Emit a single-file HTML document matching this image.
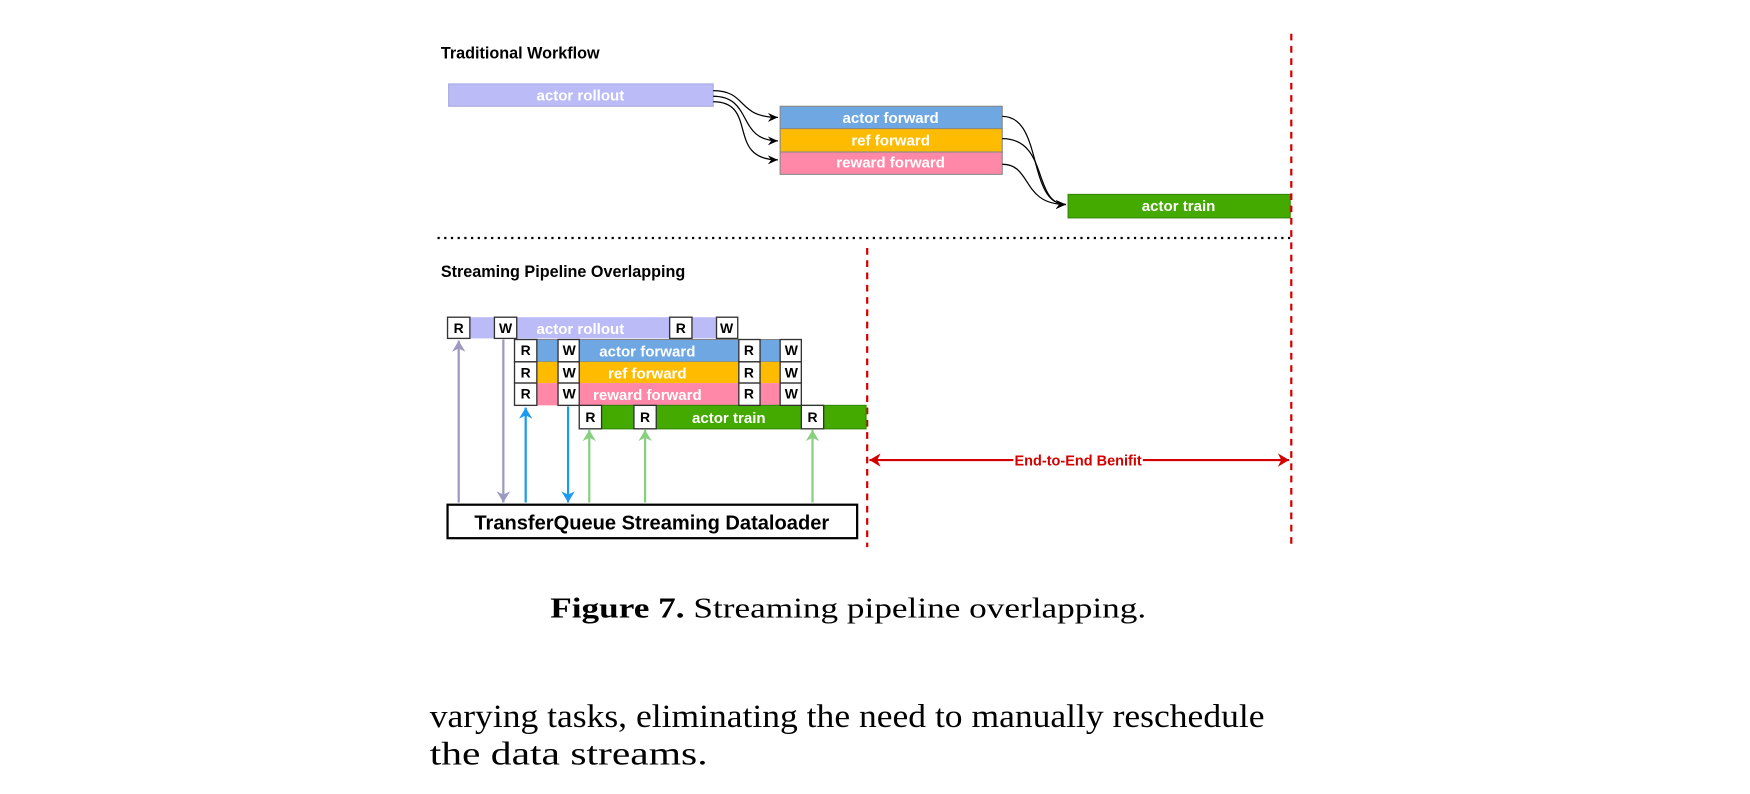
<!DOCTYPE html>
<html><head><meta charset="utf-8"><style>
html,body{margin:0;padding:0;background:#fff;}
svg{display:block;}
.t{font-family:"Liberation Sans",sans-serif;font-weight:bold;}
.w{fill:#fff;font-family:"Liberation Sans",sans-serif;font-weight:bold;font-size:13.5px;text-anchor:middle;}
.b{font-family:"Liberation Sans",sans-serif;font-weight:bold;font-size:12.5px;text-anchor:middle;fill:#000;}
.s{font-family:"Liberation Serif",serif;}
</style></head><body>
<svg width="1750" height="794" viewBox="0 0 1568 711" xmlns="http://www.w3.org/2000/svg">
<defs>
<marker id="ak" markerWidth="10" markerHeight="10" refX="9" refY="5" orient="auto" markerUnits="userSpaceOnUse"><path d="M0,1 L9,5 L0,9 L3,5z" fill="#000"/></marker>
<marker id="ap" markerWidth="12" markerHeight="12" refX="10" refY="6" orient="auto" markerUnits="userSpaceOnUse"><path d="M0,0 L10,6 L0,12 L3,6z" fill="#9c99c0"/></marker>
<marker id="ab" markerWidth="12" markerHeight="12" refX="10" refY="6" orient="auto" markerUnits="userSpaceOnUse"><path d="M0,0 L10,6 L0,12 L3,6z" fill="#1a9af0"/></marker>
<marker id="ag" markerWidth="12" markerHeight="12" refX="10" refY="6" orient="auto" markerUnits="userSpaceOnUse"><path d="M0,0 L10,6 L0,12 L3,6z" fill="#88d080"/></marker>
<marker id="ar" markerWidth="12" markerHeight="12" refX="10" refY="6" orient="auto-start-reverse" markerUnits="userSpaceOnUse"><path d="M0,0 L10,6 L0,12 L3,6z" fill="#d40000"/></marker>
</defs>
<rect width="1568" height="711" fill="#fff"/>
<text x="395" y="52" class="t" font-size="14.5">Traditional Workflow</text>
<rect x="402" y="75" width="237" height="20" fill="#bbbbf8" stroke="#a8a8e0"/>
<text x="520" y="90" class="w">actor rollout</text>
<rect x="699" y="95" width="199" height="20" fill="#6fa7e3" stroke="#888"/>
<text x="798" y="110" class="w">actor forward</text>
<rect x="699" y="115" width="199" height="21" fill="#ffbb00" stroke="#888"/>
<text x="798" y="130" class="w">ref forward</text>
<rect x="699" y="136" width="199" height="20" fill="#ff88a8" stroke="#888"/>
<text x="798" y="150" class="w">reward forward</text>
<rect x="957" y="174" width="199" height="21" fill="#44aa00" stroke="#2f8a00"/>
<text x="1056" y="189" class="w">actor train</text>
<g fill="none" stroke="#000" stroke-width="1.1">
<path d="M639,81 C670,81 660,105 697,105" marker-end="url(#ak)"/>
<path d="M639,86 C675,86 660,126 697,126" marker-end="url(#ak)"/>
<path d="M639,91 C680,91 650,143 697,143" marker-end="url(#ak)"/>
<path d="M898,104 C935,104 920,183 955,183" marker-end="url(#ak)"/>
<path d="M898,124 C940,124 925,183 955,183" marker-end="url(#ak)"/>
<path d="M898,147 C925,147 915,183 955,183" marker-end="url(#ak)"/>
</g>
<line x1="392" y1="213" x2="1157" y2="213" stroke="#000" stroke-width="2" stroke-dasharray="2,4"/>
<line x1="1157" y1="30" x2="1157" y2="490" stroke="#d40000" stroke-width="2" stroke-dasharray="6,5"/>
<line x1="777" y1="222" x2="777" y2="490" stroke="#d40000" stroke-width="2" stroke-dasharray="6,5"/>
<text x="395" y="248" class="t" font-size="14.5">Streaming Pipeline Overlapping</text>
<rect x="421" y="284" width="221" height="19" fill="#bbbbf8"/>
<text x="520" y="299" class="w">actor rollout</text>
<rect x="481" y="304" width="236" height="20" fill="#6fa7e3" stroke="#777" stroke-width="0.8"/>
<text x="580" y="319" class="w">actor forward</text>
<rect x="481" y="324" width="181" height="19" fill="#ffbb00"/>
<rect x="681" y="324" width="18" height="19" fill="#ffbb00"/>
<text x="580" y="339" class="w">ref forward</text>
<rect x="481" y="343" width="181" height="20" fill="#ff88a8"/>
<rect x="681" y="343" width="18" height="20" fill="#ff88a8"/>
<text x="580" y="358" class="w">reward forward</text>
<rect x="539" y="363" width="237" height="21" fill="#44aa00" stroke="#2f8a00"/>
<text x="653" y="379" class="w">actor train</text>
<g fill="#fff" stroke="#333" stroke-width="1.2">
<rect x="401" y="284" width="20" height="19"/><rect x="443" y="284" width="20" height="19"/>
<rect x="600" y="284" width="20" height="19"/><rect x="642" y="284" width="19" height="19"/>
<rect x="461" y="304" width="20" height="20"/><rect x="500" y="304" width="19" height="20"/>
<rect x="461" y="324" width="20" height="19"/><rect x="500" y="324" width="19" height="19"/>
<rect x="461" y="343" width="20" height="20"/><rect x="500" y="343" width="19" height="20"/>
<rect x="662" y="304" width="19" height="20"/><rect x="699" y="304" width="19" height="20"/>
<rect x="662" y="324" width="19" height="19"/><rect x="699" y="324" width="19" height="19"/>
<rect x="662" y="343" width="19" height="20"/><rect x="699" y="343" width="19" height="20"/>
<rect x="519" y="363" width="20" height="21"/><rect x="568" y="363" width="20" height="21"/>
<rect x="718" y="363" width="20" height="21"/>
</g>
<g>
<text x="411" y="298" class="b">R</text><text x="453" y="298" class="b">W</text>
<text x="610" y="298" class="b">R</text><text x="651" y="298" class="b">W</text>
<text x="471" y="318" class="b">R</text><text x="510" y="318" class="b">W</text>
<text x="471" y="338" class="b">R</text><text x="510" y="338" class="b">W</text>
<text x="471" y="357" class="b">R</text><text x="510" y="357" class="b">W</text>
<text x="671" y="318" class="b">R</text><text x="709" y="318" class="b">W</text>
<text x="671" y="338" class="b">R</text><text x="709" y="338" class="b">W</text>
<text x="671" y="357" class="b">R</text><text x="709" y="357" class="b">W</text>
<text x="529" y="378" class="b">R</text><text x="578" y="378" class="b">R</text>
<text x="728" y="378" class="b">R</text>
</g>
<g stroke-width="2">
<line x1="411" y1="450" x2="411" y2="305" stroke="#9c99c0" marker-end="url(#ap)"/>
<line x1="451" y1="304" x2="451" y2="450" stroke="#9c99c0" marker-end="url(#ap)"/>
<line x1="471" y1="450" x2="471" y2="365" stroke="#1a9af0" marker-end="url(#ab)"/>
<line x1="509" y1="364" x2="509" y2="450" stroke="#1a9af0" marker-end="url(#ab)"/>
<line x1="528" y1="450" x2="528" y2="385" stroke="#88d080" marker-end="url(#ag)"/>
<line x1="578" y1="450" x2="578" y2="385" stroke="#88d080" marker-end="url(#ag)"/>
<line x1="728" y1="450" x2="728" y2="385" stroke="#88d080" marker-end="url(#ag)"/>
</g>
<rect x="401" y="452" width="367" height="30" fill="#fff" stroke="#000" stroke-width="2"/>
<text x="584" y="474" class="t" font-size="18" text-anchor="middle">TransferQueue Streaming Dataloader</text>
<line x1="779" y1="412" x2="908" y2="412" stroke="#d40000" stroke-width="2" marker-start="url(#ar)"/>
<line x1="1024" y1="412" x2="1155" y2="412" stroke="#d40000" stroke-width="2" marker-end="url(#ar)"/>
<text x="966" y="417" class="t" font-size="13" fill="#d40000" text-anchor="middle">End-to-End Benifit</text>
<text x="493" y="553" class="s" font-size="26" textLength="534" lengthAdjust="spacingAndGlyphs"><tspan font-weight="bold">Figure 7.</tspan> Streaming pipeline overlapping.</text>
<text x="385" y="651" class="s" font-size="29" textLength="748" lengthAdjust="spacingAndGlyphs">varying tasks, eliminating the need to manually reschedule</text>
<text x="385" y="685" class="s" font-size="29" textLength="249" lengthAdjust="spacingAndGlyphs">the data streams.</text>
</svg>
</body></html>
